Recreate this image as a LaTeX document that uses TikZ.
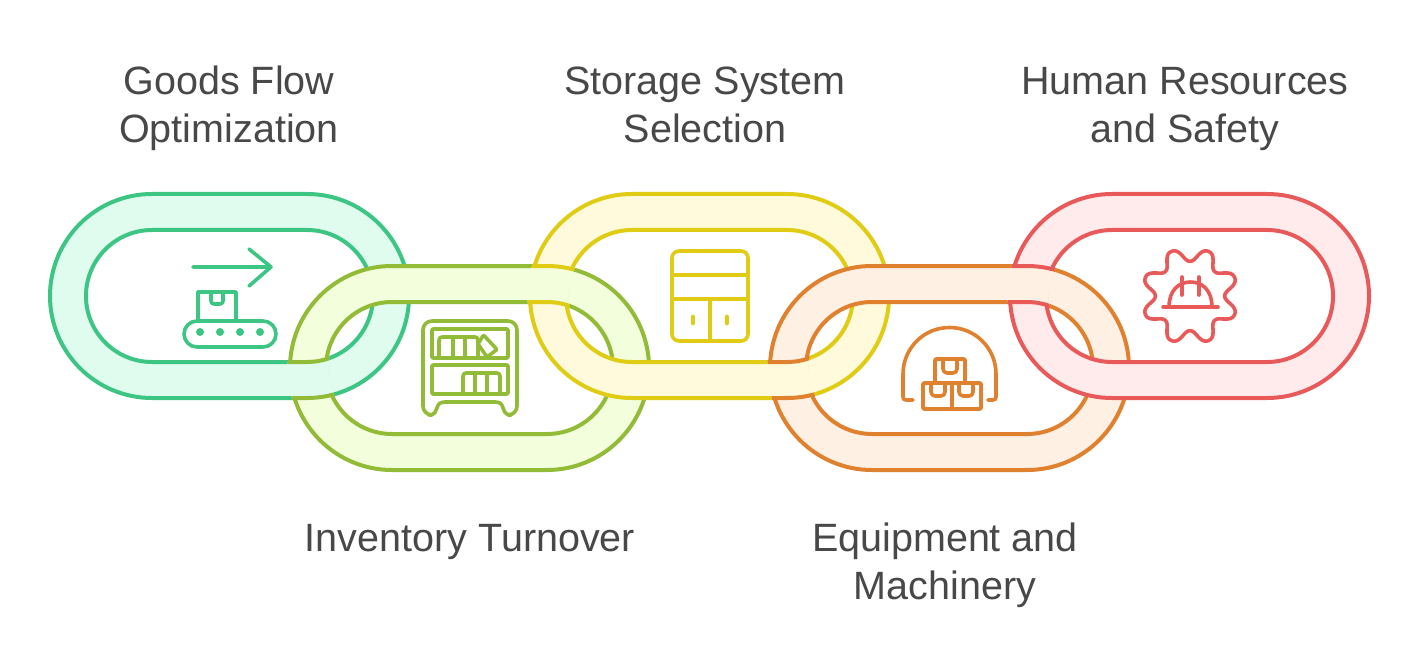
\documentclass[tikz,border=0pt]{standalone}
\usepackage{fontspec}
\setmainfont{Liberation Sans}
\definecolor{cA}{HTML}{3CC583}\definecolor{fA}{HTML}{E0FCEF}
\definecolor{cB}{HTML}{92BC38}\definecolor{fB}{HTML}{F2FEDC}
\definecolor{cC}{HTML}{E0CB15}\definecolor{fC}{HTML}{FFFADB}
\definecolor{cD}{HTML}{E0812F}\definecolor{fD}{HTML}{FFF0E4}
\definecolor{cE}{HTML}{E85A5A}\definecolor{fE}{HTML}{FFEBEB}
\definecolor{txt}{HTML}{484848}
\newcommand{\linkband}[2]{[rounded corners=102pt] (50+#1,194+#2) rectangle (409+#1,398+#2) [rounded corners=66pt] (86+#1,230+#2) rectangle (373+#1,362+#2)}
\newcommand{\linkclip}[2]{[rounded corners=104.6pt] (47.4+#1,191.4+#2) rectangle (411.6+#1,400.6+#2) [rounded corners=63.4pt] (88.6+#1,232.6+#2) rectangle (370.4+#1,359.4+#2)}
\newcommand{\linkdraw}[4]{\path[draw=#3,fill=#4,line width=4pt,even odd rule] \linkband{#1}{#2};}
% piece of link k lying over link k+1: box corners, offsets of k, offsets of k+1, stroke, fill
\newcommand{\crossing}[8]{\begin{scope}[even odd rule]
  \clip #1 rectangle #2;
  \clip \linkclip{#5}{#6};
  \path[fill=#8] \linkband{#3}{#4};
  \path[draw=#7,line width=4pt] \linkband{#3}{#4};
\end{scope}}
\tikzset{
  label/.style={text=txt,font=\fontsize{39.5}{48}\selectfont,align=center,inner sep=0pt,anchor=base},
  icon/.style={line width=3.6pt,line cap=round,line join=round},
  declare function={gr(\t)=41.5+7.2*cos(8*(\t-22.5))-0.4*cos(24*(\t-22.5));}
}
\begin{document}
\begin{tikzpicture}[x=1pt,y=-1pt]
\useasboundingbox (0,0) rectangle (1420,652);
\fill[white] (0,0) rectangle (1420,652);
\linkdraw{0}{0}{cA}{fA}
\linkdraw{240}{72}{cB}{fB}
\crossing{(285,355)}{(340,405)}{0}{0}{240}{72}{cB}{fA}
\linkdraw{480}{0}{cC}{fC}
\crossing{(525,260)}{(580,308)}{240}{72}{480}{0}{cC}{fB}
\linkdraw{720}{72}{cD}{fD}
\crossing{(765,355)}{(820,405)}{480}{0}{720}{72}{cD}{fC}
\linkdraw{960}{0}{cE}{fE}
\crossing{(1005,260)}{(1060,308)}{720}{72}{960}{0}{cE}{fD}
% conveyor icon
\begin{scope}[icon,draw=cA]
\draw (193,267) -- (271,267) (249,249) -- (271,267) -- (249,286);
\draw (198,321) -- (198,292) -- (236,292) -- (236,321);
\draw[rounded corners=3pt] (211,292) -- (211,304) -- (223,304) -- (223,292);
\draw[rounded corners=13pt] (184,321) rectangle (276,347);
\foreach \x in {200,220,240,260} \fill[cA] (\x,332) circle (4pt);
\end{scope}
% shelf icon
\begin{scope}[icon,draw=cB]
\draw[rounded corners=9pt] (429,415) -- (423,415) -- (423,321) -- (517,321) -- (517,415) -- (511,415);
\draw (429,415) .. controls (435,415) and (436,411) .. (437,408) .. controls (438,404) and (440,402) .. (445,402) -- (495,402) .. controls (500,402) and (502,404) .. (503,408) .. controls (504,411) and (505,415) .. (511,415);
\draw[rounded corners=1pt] (432,329) rectangle (508,358) (432,365) rectangle (508,394);
\draw[rounded corners=3pt] (439,358) -- (439,337) -- (478,337) -- (478,358);
\draw (453,337) -- (453,358) (465,337) -- (465,358);
\draw[rounded corners=1pt] (483.5,335) -- (497,349.5) -- (487,357) -- (478,344) -- cycle;
\draw[rounded corners=3pt] (463,394) -- (463,373) -- (500,373) -- (500,394);
\draw (475,373) -- (475,394) (487,373) -- (487,394);
\end{scope}
% cabinet icon
\begin{scope}[icon,draw=cC]
\draw[rounded corners=7pt] (672,251) rectangle (748,341);
\draw (672,275) -- (748,275) (672,299) -- (748,299) (710,299) -- (710,341);
\draw (693,316.5) -- (693,323.5) (727,316.5) -- (727,323.5);
\end{scope}
% warehouse icon
\begin{scope}[icon,draw=cD]
\draw (913,400) -- (906,400) .. controls (904,400) and (903,399) .. (903,397) -- (903,374) arc[start angle=180,end angle=0,radius=46.5pt] -- (996,397) .. controls (996,399) and (995,400) .. (993,400) -- (988,400);
\draw[rounded corners=1pt] (935,383) -- (935,359) -- (965,359) -- (965,383);
\draw[rounded corners=1pt] (923,383) rectangle (981,409);
\draw (952,383) -- (952,409);
\draw[rounded corners=4pt] (943,359) -- (943,373) -- (957,373) -- (957,359);
\draw[rounded corners=4pt] (931,383) -- (931,396) -- (945,396) -- (945,383);
\draw[rounded corners=4pt] (959,383) -- (959,396) -- (973,396) -- (973,383);
\end{scope}
% gear and helmet icon
\begin{scope}[icon,draw=cE]
\draw plot[domain=0:360,samples=161,smooth] ({1190+gr(\x)*cos(\x)},{296+gr(\x)*sin(\x)}) -- cycle;
\draw (1163,307) -- (1218,307);
\draw (1169,307) .. controls (1169,291) and (1178,282) .. (1190.5,282) .. controls (1203,282) and (1212,291) .. (1212,307);
\draw (1182,277) -- (1182,295) (1199,277) -- (1199,295);
\end{scope}
% labels
\node[label] (goods) at (229,142.5) {Goods Flow\\Optimization};
\node[label] (storage) at (705,142.5) {Storage System\\Selection};
\node[label] (human) at (1185,142.5) {Human Resources\\and Safety};
\node[label] (inventory) at (470,551) {Inventory Turnover};
\node[label] (equipment) at (945,599) {Equipment and\\Machinery};
\end{tikzpicture}
\end{document}
